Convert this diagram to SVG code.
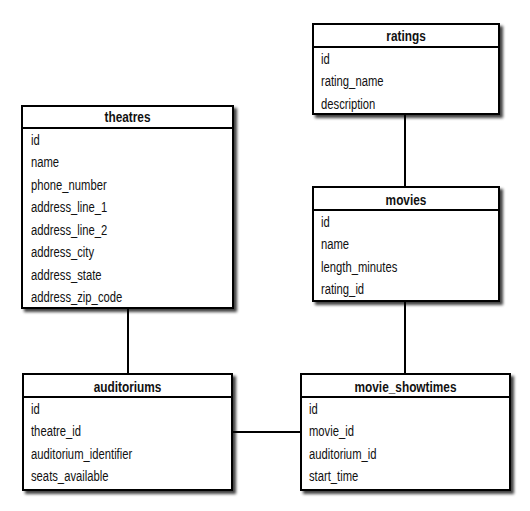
<svg xmlns="http://www.w3.org/2000/svg" width="530" height="511" viewBox="0 0 530 511">
<defs>
<filter id="sh" x="-10%" y="-10%" width="125%" height="125%">
<feGaussianBlur in="SourceAlpha" stdDeviation="1.6"/>
<feOffset dx="3" dy="3" result="b"/>
<feComponentTransfer><feFuncA type="linear" slope="0.75"/></feComponentTransfer>
<feMerge><feMergeNode/><feMergeNode in="SourceGraphic"/></feMerge>
</filter>
</defs>
<style>
.box{fill:#fff;stroke:#000;stroke-width:2;filter:url(#sh)}
.sep{stroke:#000;stroke-width:2}
.hd{font-family:"Liberation Sans",Arial,sans-serif;font-size:15px;font-weight:bold;text-anchor:middle;fill:#111}
.f{font-family:"Liberation Sans",Arial,sans-serif;font-size:15px;fill:#111}
.c{stroke:#000;stroke-width:2;fill:none}
</style>
<rect width="530" height="511" fill="#fff"/>
<g id="connectors">
<line class="c" x1="405" y1="114" x2="405" y2="187"/>
<line class="c" x1="405" y1="301" x2="405" y2="374"/>
<line class="c" x1="128" y1="308" x2="128" y2="374"/>
<line class="c" x1="232" y1="432" x2="301" y2="432"/>
</g>
<g id="ratings">
<rect class="box" x="313" y="24" width="186" height="90"/>
<line class="sep" x1="313" y1="47" x2="499" y2="47"/>
<text class="hd" transform="translate(406,41) scale(0.79,1)">ratings</text>
<g transform="translate(321,0) scale(0.75,1)">
<text class="f" y="64">id</text>
<text class="f" y="86.5">rating_name</text>
<text class="f" y="109">description</text>
</g>
</g>
<g id="theatres">
<rect class="box" x="22" y="106" width="211" height="202"/>
<line class="sep" x1="22" y1="128" x2="233" y2="128"/>
<text class="hd" transform="translate(127.5,122) scale(0.79,1)">theatres</text>
<g transform="translate(31,0) scale(0.75,1)">
<text class="f" y="145">id</text>
<text class="f" y="167.5">name</text>
<text class="f" y="190">phone_number</text>
<text class="f" y="212.5">address_line_1</text>
<text class="f" y="235">address_line_2</text>
<text class="f" y="257.5">address_city</text>
<text class="f" y="280">address_state</text>
<text class="f" y="302">address_zip_code</text>
</g>
</g>
<g id="movies">
<rect class="box" x="313" y="187" width="186" height="114"/>
<line class="sep" x1="313" y1="210" x2="499" y2="210"/>
<text class="hd" transform="translate(406,205) scale(0.79,1)">movies</text>
<g transform="translate(321,0) scale(0.75,1)">
<text class="f" y="227">id</text>
<text class="f" y="249.5">name</text>
<text class="f" y="272">length_minutes</text>
<text class="f" y="294.5">rating_id</text>
</g>
</g>
<g id="auditoriums">
<rect class="box" x="23" y="374" width="209" height="116"/>
<line class="sep" x1="23" y1="397" x2="232" y2="397"/>
<text class="hd" transform="translate(127.5,392) scale(0.79,1)">auditoriums</text>
<g transform="translate(31,0) scale(0.75,1)">
<text class="f" y="414">id</text>
<text class="f" y="436.5">theatre_id</text>
<text class="f" y="459">auditorium_identifier</text>
<text class="f" y="481.5">seats_available</text>
</g>
</g>
<g id="movie_showtimes">
<rect class="box" x="301" y="374" width="209" height="116"/>
<line class="sep" x1="301" y1="397" x2="510" y2="397"/>
<text class="hd" transform="translate(405.5,392) scale(0.79,1)">movie_showtimes</text>
<g transform="translate(309,0) scale(0.75,1)">
<text class="f" y="414">id</text>
<text class="f" y="436.5">movie_id</text>
<text class="f" y="459">auditorium_id</text>
<text class="f" y="481.5">start_time</text>
</g>
</g>
</svg>
